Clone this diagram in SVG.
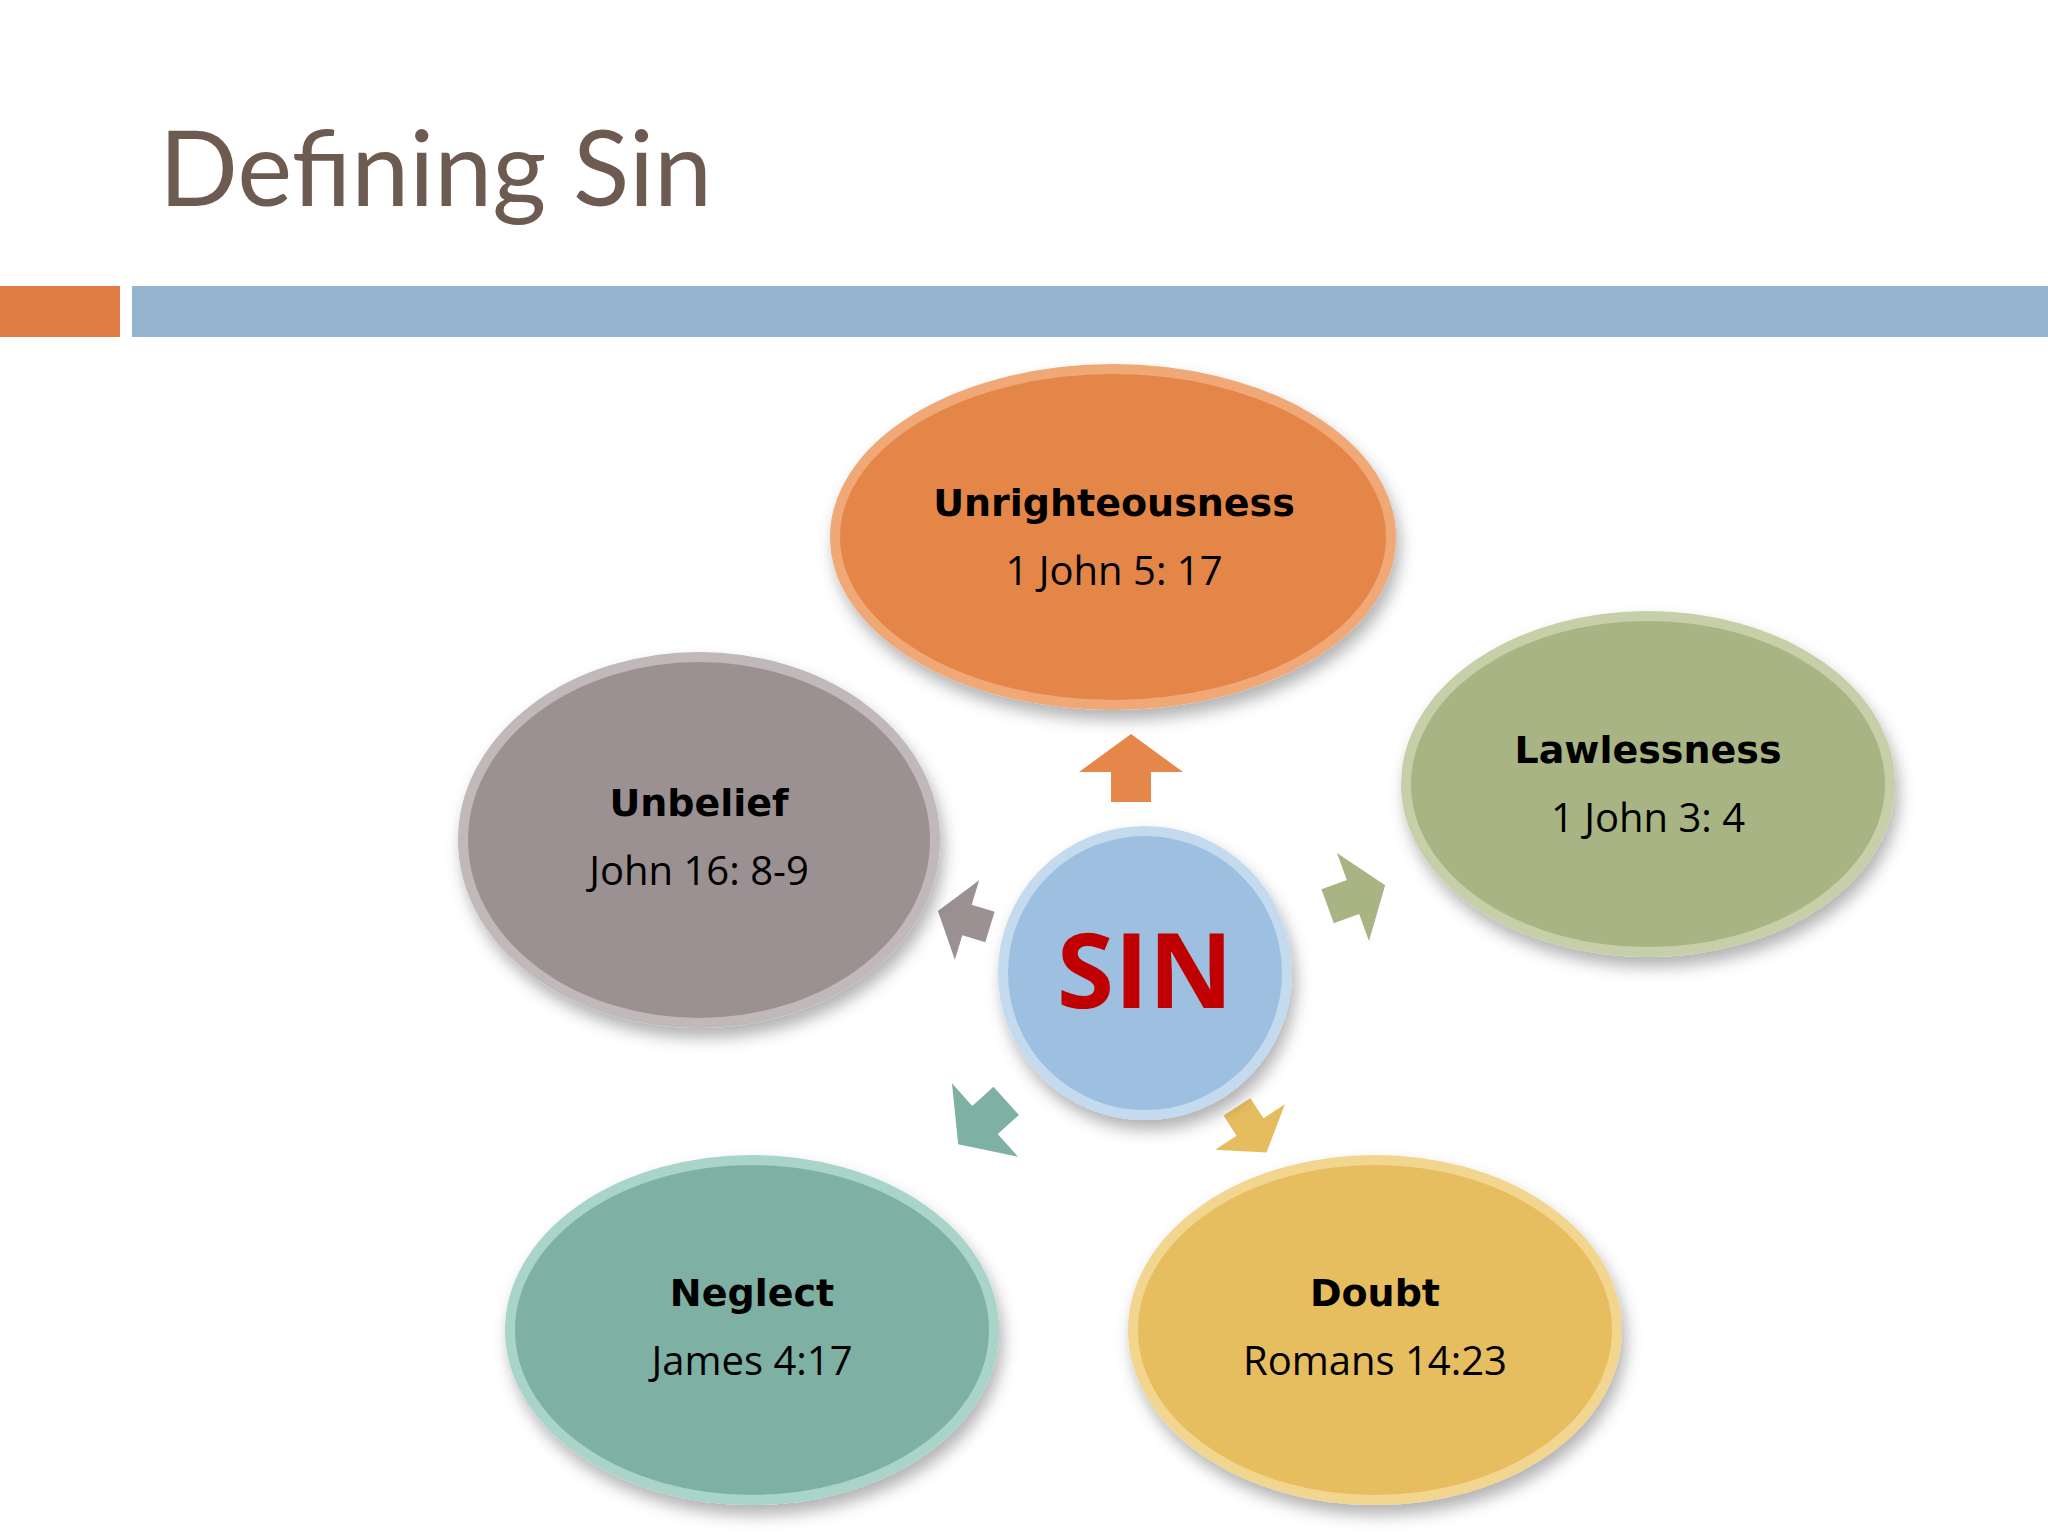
<svg xmlns="http://www.w3.org/2000/svg" width="2048" height="1536" viewBox="0 0 2048 1536">
<style>
.h{font-family:"DejaVu Sans","Liberation Sans",sans-serif;font-weight:bold;font-size:38px;fill:#000;text-anchor:middle}
.r{font-family:"Open Sans","Liberation Sans",sans-serif;font-size:40px;fill:#000;text-anchor:middle}
.e{stroke-width:10;filter:url(#sh)}
</style>
<defs>
<filter id="sh" x="-20%" y="-20%" width="140%" height="150%"><feDropShadow dx="4" dy="10" stdDeviation="8" flood-color="#000" flood-opacity="0.3"/></filter>
<path id="ar" d="M-30,-20 L0,-20 L0,-52 L38,0 L0,52 L0,20 L-30,20 Z"/>
</defs>
<rect width="2048" height="1536" fill="#fff"/>
<text x="159" y="206" font-family="Lato,'Liberation Sans',sans-serif" font-size="104" fill="#6d5a50">Defining Sin</text>
<rect x="0" y="286" width="120" height="51" fill="#e07b43"/>
<rect x="132" y="286" width="1916" height="51" fill="#94b4cf"/>
<g id="connectors">
<use href="#ar" transform="translate(1131,772) rotate(-90)" fill="#e5864a"/>
<use href="#ar" transform="translate(1353,897) rotate(-20) scale(0.9)" fill="#a8b483"/>
<use href="#ar" transform="translate(967,920) rotate(-163) scale(0.8)" fill="#9b9192"/>
<use href="#ar" transform="translate(985,1120) rotate(138) scale(0.95)" fill="#7eb0a4"/>
<use href="#ar" transform="translate(1250,1127) rotate(57) scale(0.8)" fill="#e6bd5e"/>
</g>
<g id="unrighteousness"><ellipse class="e" cx="1113" cy="537" rx="278" ry="168" fill="#e5864a" stroke="#f0a877"/><text class="h" x="1114" y="516">Unrighteousness</text><text class="r" x="1114" y="585">1 John 5: 17</text></g>
<g id="lawlessness"><ellipse class="e" cx="1648" cy="784" rx="242" ry="168" fill="#a8b483" stroke="#c6cfa7"/><text class="h" x="1648" y="763">Lawlessness</text><text class="r" x="1648" y="832">1 John 3: 4</text></g>
<g id="unbelief"><ellipse class="e" cx="699" cy="840" rx="236" ry="183" fill="#9b9192" stroke="#c0b8b9"/><text class="h" x="699" y="816">Unbelief</text><text class="r" x="699" y="885">John 16: 8-9</text></g>
<g id="neglect"><ellipse class="e" cx="752" cy="1330" rx="242" ry="170" fill="#7eb0a4" stroke="#a8d4ca"/><text class="h" x="752" y="1306">Neglect</text><text class="r" x="752" y="1375">James 4:17</text></g>
<g id="doubt"><ellipse class="e" cx="1375" cy="1330" rx="242" ry="170" fill="#e6bd5e" stroke="#f2d58f"/><text class="h" x="1375" y="1306">Doubt</text><text class="r" x="1375" y="1375">Romans 14:23</text></g>
<g id="sin"><circle class="e" cx="1145" cy="973" r="142" fill="#9ec0e0" stroke="#c3daef"/><text x="1145" y="1008" text-anchor="middle" font-family="'Open Sans','Liberation Sans',sans-serif" font-weight="bold" font-size="104" fill="#c00000">SIN</text></g>
</svg>
